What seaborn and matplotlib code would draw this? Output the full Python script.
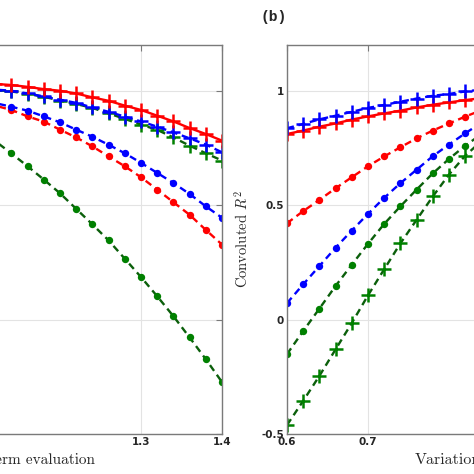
import matplotlib
matplotlib.use("Agg")
import matplotlib.pyplot as plt
import seaborn as sns

# panel (a): values
left_x = [1.12, 1.14, 1.16, 1.18, 1.20, 1.22, 1.24, 1.26, 1.28, 1.30, 1.32, 1.34, 1.36, 1.38, 1.40]
left_red_plus = [1.03, 1.025, 1.017, 1.007, 1.0, 0.988, 0.971, 0.956, 0.935, 0.916, 0.891, 0.866, 0.837, 0.811, 0.782]
left_blue_plus = [1.005, 1.0, 0.988, 0.975, 0.961, 0.947, 0.927, 0.908, 0.887, 0.866, 0.843, 0.818, 0.792, 0.765, 0.731]
left_green_plus = [1.004, 0.997, 0.986, 0.974, 0.957, 0.942, 0.925, 0.901, 0.877, 0.852, 0.829, 0.796, 0.76, 0.727, 0.695]
left_blue_dot = [0.946, 0.930, 0.913, 0.888, 0.862, 0.830, 0.799, 0.764, 0.727, 0.685, 0.641, 0.597, 0.549, 0.495, 0.445]
left_red_dot = [0.935, 0.916, 0.888, 0.865, 0.830, 0.796, 0.757, 0.713, 0.670, 0.622, 0.568, 0.513, 0.458, 0.392, 0.328]
left_green_dot = [0.78, 0.726, 0.670, 0.612, 0.552, 0.484, 0.416, 0.346, 0.266, 0.186, 0.102, 0.015, -0.078, -0.173, -0.273]

# panel (b)
right_x = [0.60, 0.62, 0.64, 0.66, 0.68, 0.70, 0.72, 0.74, 0.76, 0.78, 0.80, 0.82, 0.84]
right_blue_plus = [0.836, 0.855, 0.875, 0.891, 0.908, 0.925, 0.938, 0.952, 0.966, 0.978, 0.986, 0.997, 1.005]
right_red_plus = [0.811, 0.826, 0.843, 0.857, 0.874, 0.888, 0.901, 0.913, 0.927, 0.939, 0.949, 0.959, 0.968]
right_red_dot = [0.421, 0.474, 0.523, 0.574, 0.622, 0.670, 0.713, 0.753, 0.792, 0.826, 0.857, 0.887, 0.915]
right_blue_dot = [0.072, 0.154, 0.234, 0.314, 0.389, 0.462, 0.532, 0.596, 0.655, 0.714, 0.765, 0.814, 0.86]
right_green_dot = [-0.151, -0.05, 0.048, 0.147, 0.24, 0.331, 0.418, 0.495, 0.568, 0.639, 0.702, 0.76, 0.81]
right_green_plus = [-0.461, -0.355, -0.246, -0.13, -0.015, 0.106, 0.22, 0.333, 0.436, 0.538, 0.634, 0.716, 0.78]

left_ticks = [1.3, 1.4]
right_ticks = [0.6, 0.7]
y_ticks = [-0.5, 0, 0.5, 1]
y_labels = ["-0.5", "0", "0.5", "1"]

sns.set_style("white")
plt.rcParams["mathtext.fontset"] = "cm"

RED, BLUE, GREEN, DKGREEN = "#ff0000", "#0000ff", "#008000", "#0b5f0b"
DASH = (0, (3, 2))

fig = plt.figure(figsize=(4.74, 4.74), dpi=100)
ax_a = fig.add_axes([-0.2152, 0.0844, 0.6835, 0.8207])
ax_b = fig.add_axes([0.6055, 0.0844, 0.6835, 0.8207])


def draw(ax, x, y, color, marker, ls, lcolor=None):
    if marker == "o":
        sns.lineplot(x=x, y=y, ax=ax, color=lcolor or color, linestyle=ls, lw=1.7,
                     marker="o", markersize=5.3, mfc=color, mec=color, mew=0)
    else:
        sns.lineplot(x=x, y=y, ax=ax, color=lcolor or color, linestyle=ls, lw=1.7,
                     marker="+", markersize=9.5, mec=color, mew=1.8)


draw(ax_a, left_x, left_green_dot, GREEN, "o", DASH, DKGREEN)
draw(ax_a, left_x, left_red_dot, RED, "o", DASH)
draw(ax_a, left_x, left_blue_dot, BLUE, "o", DASH)
draw(ax_a, left_x, left_green_plus, GREEN, "+", DASH, DKGREEN)
draw(ax_a, left_x, left_blue_plus, BLUE, "+", DASH)
draw(ax_a, left_x, left_red_plus, RED, "+", "-")

draw(ax_b, right_x, right_green_plus, GREEN, "+", DASH, DKGREEN)
draw(ax_b, right_x, right_green_dot, GREEN, "o", DASH, DKGREEN)
draw(ax_b, right_x, right_blue_dot, BLUE, "o", DASH)
draw(ax_b, right_x, right_red_dot, RED, "o", DASH)
draw(ax_b, right_x, right_red_plus, RED, "+", "-")
draw(ax_b, right_x, right_blue_plus, BLUE, "+", DASH)

for ax in (ax_a, ax_b):
    ax.set_ylim(-0.5, 1.2)
    ax.set_yticks(y_ticks)
    ax.set_yticklabels(y_labels)
    ax.grid(True, color="#e3e3e3", lw=0.8)
    ax.set_axisbelow(True)
    for s in ax.spines.values():
        s.set_color("#7a7a7a")
        s.set_linewidth(1.0)
    ax.tick_params(direction="in", length=4, width=0.8, color="#7a7a7a",
                   top=True, right=True, labelsize=7.5, pad=2)
    for lab in ax.get_xticklabels() + ax.get_yticklabels():
        lab.set_fontweight("bold")

ax_a.set_xlim(1.0, 1.4)
ax_a.set_xticks(left_ticks)
ax_a.set_xticklabels(["1.3", "1.4"], fontweight="bold")
ax_b.set_xlim(0.6, 1.0)
ax_b.set_xticks(right_ticks)
ax_b.set_xticklabels(["0.6", "0.7"], fontweight="bold")

ax_a.set_xlabel("Long-term evaluation", fontfamily="cmr10", fontsize=11)
ax_a.xaxis.label.set_ha("right")
ax_a.xaxis.set_label_coords((95 + 102) / 324, -0.05)

ax_b.set_xlabel("Variation", fontfamily="cmr10", fontsize=11.5)
ax_b.xaxis.label.set_ha("left")
ax_b.xaxis.set_label_coords((415 - 287) / 324, -0.05)

ax_b.set_ylabel("Convoluted $R^2$", fontfamily="cmr10", fontsize=10.5)
ax_b.yaxis.set_label_coords((251 - 287) / 324, 0.5)

ax_b.text(0.0, 1.072, "(b)", transform=ax_b.transAxes, ha="right", va="center",
          fontfamily="Liberation Mono", fontweight="bold", fontsize=10.5)

fig.savefig("out.png", dpi=100)
